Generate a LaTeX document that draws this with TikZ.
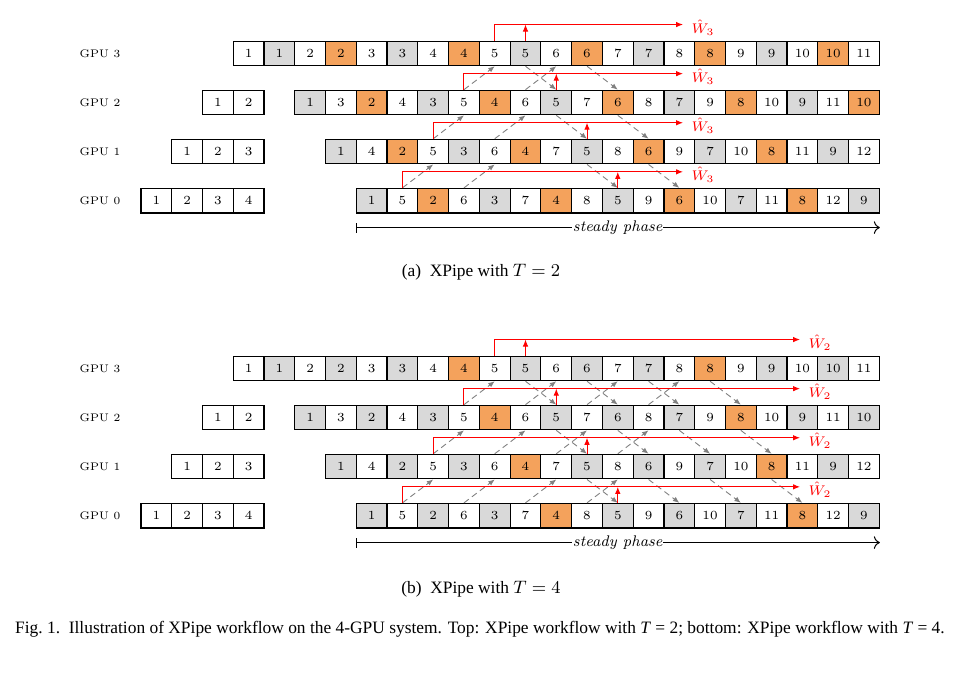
\documentclass[tikz,border=0pt]{standalone}
\usepackage{fontspec}
\newfontfamily\capfont{Liberation Serif}
\usetikzlibrary{arrows.meta}

\definecolor{bwdgray}{RGB}{217,217,217}
\definecolor{updorange}{RGB}{244,162,92}

\tikzset{
  cell/.style={draw, line width=0.6pt, minimum width=15.38pt, minimum height=12.25pt,
    inner sep=0pt, font=\fontsize{6.2}{7}\selectfont},
  bwd/.style={cell, fill=bwdgray},
  upd/.style={cell, fill=updorange},
  send/.style={draw=gray, dash pattern=on 3pt off 2pt, line width=0.45pt,
    -{Latex[length=3.2pt,width=2.6pt]}},
  wupd/.style={red, line width=0.5pt, -{Latex[length=3.5pt,width=2.8pt]}},
  gpulabel/.style={font=\fontsize{5.5}{6.5}\selectfont},
  caption/.style={font=\capfont\fontsize{8.7}{10}\selectfont},
}

\begin{document}
\begin{tikzpicture}[x=0.5pt, y=-0.5pt]
\useasboundingbox (0,0) rectangle (972,673);

\foreach \d/\oy/\T/\tx/\ws in {a/0/2/683/3, b/315/4/800/2}
{
  \foreach \g in {0,...,3}
  {
    \pgfmathsetmacro\ry{200.7-49.1*\g+\oy}
    \node[gpulabel] (\d-gpu\g) at (100,\ry) {GPU \g};
    % warm-up forwards
    \pgfmathtruncatemacro\wn{4-\g}
    \foreach \i in {1,...,\wn}
    {
      \pgfmathtruncatemacro\c{\g+\i-1}
      \node[cell] (\d-\g-\c) at (156.38+30.76*\c,\ry) {\i};
    }
    % steady phase: backward and forward in turn
    \pgfmathtruncatemacro\s{7-\g}
    \foreach \c in {\s,...,23}
    {
      \pgfmathtruncatemacro\isb{mod(\c-\s,2)==0}
      \ifnum\isb=1
        \pgfmathtruncatemacro\i{(\c-5+\g)/2}
        \pgfmathtruncatemacro\isu{mod(\i,\T)==0}
        \ifnum\isu=1 \def\sty{upd}\else\def\sty{bwd}\fi
      \else
        \pgfmathtruncatemacro\i{(\c+2-\g)/2}
        \def\sty{cell}
      \fi
      \node[\sty] (\d-\g-\c) at (156.38+30.76*\c,\ry) {\i};
    }
  }

  % sends between neighbouring GPUs
  \pgfmathtruncatemacro\ilast{4+\T}
  \foreach \k in {0,1,2}
  {
    \pgfmathtruncatemacro\kk{\k+1}
    \foreach \i in {5,...,\ilast}
    {
      \pgfmathtruncatemacro\fa{2*\i+\k-2}
      \pgfmathtruncatemacro\fb{2*\i+\k-1}
      \draw[send] (\d-\k-\fa.north) -- (\d-\kk-\fb.south);
      \pgfmathtruncatemacro\ba{4-\k+2*\i}
      \pgfmathtruncatemacro\bb{5-\k+2*\i}
      \draw[send] (\d-\kk-\ba.south) -- (\d-\k-\bb.north);
    }
  }

  % weight prediction
  \foreach \g in {0,...,3}
  {
    \pgfmathtruncatemacro\fc{8+\g}
    \pgfmathtruncatemacro\bc{15-\g}
    \path (\d-\g-\fc.north) ++(0,-16) coordinate (\d-turn\g);
    \coordinate (\d-tip\g) at (\tx,0 |- \d-turn\g);
    \draw[wupd] (\d-\g-\fc.north) |- (\d-tip\g)
      node[anchor=west, xshift=4pt, yshift=-1.5pt, inner sep=0pt, red, font=\fontsize{7.5}{8}\selectfont] (\d-w\g) {$\hat{W}_\ws$};
    \draw[wupd] (\d-\g-\bc.north) -- (\d-\g-\bc.north |- \d-tip\g);
  }

  \draw[{Bar[width=5pt]}-{To[length=3pt]}, line width=0.5pt]
    ([yshift=-7pt]\d-0-7.south west) -- ([yshift=-7pt]\d-0-23.south east)
    node[midway, fill=white, inner sep=0.4pt, font=\fontsize{7.7}{9}\selectfont\itshape] (\d-steady) {steady phase};
}

\node[caption] (cap-a) at (481,272) {(a)\ \ XPipe with $T=2$};
\node[caption] (cap-b) at (481,589) {(b)\ \ XPipe with $T=4$};
\node[caption] (cap-fig) at (480,629) {Fig.~1.\ \ Illustration of XPipe workflow on the 4-GPU system. Top: XPipe workflow with \textit{T} = 2; bottom: XPipe workflow with \textit{T} = 4.};

\end{tikzpicture}
\end{document}
